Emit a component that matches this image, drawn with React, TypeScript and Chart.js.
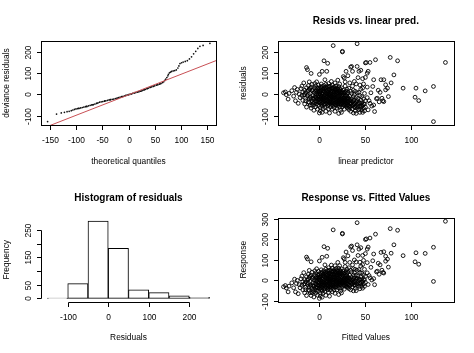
import React, { useEffect, useRef } from "react";
import { Chart, registerables } from "chart.js";

Chart.register(...registerables);

const FONT = "'Liberation Sans', Arial, Helvetica, sans-serif";

// ---------- Panel 1: QQ plot (theoretical quantile, sorted deviance residual) ----------
const qqPoints: [number, number][] = [
  [-154, -129], [-137, -93], [-128, -88], [-122, -85], [-117, -82], [-113, -80], [-109, -77],
  [-106, -74], [-103, -71], [-100, -69], [-97, -67], [-94, -66], [-91, -64], [-88, -62],
  [-85, -60], [-82, -58], [-79, -57], [-76, -54], [-73, -52], [-70, -50], [-67, -48],
  [-64, -46], [-61, -43], [-58, -40], [-55, -37], [-52, -35], [-49, -34], [-46, -32],
  [-43, -30], [-40, -28], [-37, -26], [-34, -25], [-31, -23], [-28, -22], [-25, -20],
  [-22, -18], [-19, -15], [-16, -13], [-13, -11], [-10, -9], [-7, -7], [-4, -4], [-1, -2],
  [2, 0], [5, 2], [8, 5], [11, 7], [14, 9], [17, 11], [20, 13], [23, 15], [26, 18],
  [29, 21], [32, 24], [35, 27], [38, 30], [41, 33], [44, 36], [47, 38], [50, 41], [53, 44],
  [56, 46], [59, 49], [62, 52], [65, 56], [67, 60], [69, 66], [71, 72], [73, 80], [75, 88],
  [76, 95], [78, 102], [80, 106], [82, 109], [85, 111], [88, 113], [91, 116], [94, 125],
  [96, 135], [98, 146], [101, 150], [104, 153], [108, 156], [112, 160], [116, 168],
  [120, 178], [124, 192], [128, 204], [132, 218], [136, 228], [142, 232], [155, 242],
  [-60, -42], [-45, -31], [-35, -25], [-20, -17], [-12, -10], [-5, -5], [0, -1], [6, 3],
  [12, 8], [18, 12], [24, 16], [30, 22], [36, 28], [42, 34], [48, 39], [54, 45], [60, 50],
  [-95, -66], [-80, -57], [-68, -49],
];
const qqLineX = [-180, 180];
const qqLineY = [-177, 173];
const qqXTicks = [-150, -100, -50, 0, 50, 100, 150];
const qqYTicks = [-100, 0, 100, 200];

// ---------- Panel 2: residuals vs linear predictor [fitted, residual] ----------
const residPoints: [number, number][] = [
  [-39, 8], [-37, 12], [-36, -1], [-34, -22], [-33, 5], [-30, 18], [-28, -8], [-27, 33], [-26, -30],
  [-25, 10], [-24, 24], [-23, -42], [-22, 2], [-21, -15], [-20, 28],
  [-19, -5], [-19, 40], [-18, 12], [-18, -28], [-17, 55], [-17, -2], [-16, 20], [-16, -45], [-15, 8],
  [-15, -18], [-14, 128], [-14, 32], [-14, -60], [-13, 118], [-13, -8], [-13, 15], [-12, 42], [-12, -35],
  [-12, 0], [-11, -20], [-11, 25], [-11, 60], [-10, -50], [-10, 5], [-10, -12], [-9, 100], [-9, 35],
  [-9, -65], [-8, 18], [-8, -30], [-8, 48], [-7, -5], [-7, -42], [-7, 22], [-6, 10], [-6, -22],
  [-6, -75], [-5, 30], [-5, -10], [-5, 52],
  [-4, -30], [-4, 5], [-4, 40], [-4, -58], [-4, 15],
  [-3, -18], [-3, 22], [-3, -45], [-3, 0], [-3, 60],
  [-2, -8], [-2, 30], [-2, -35], [-2, 12], [-2, -70],
  [-1, -25], [-1, 45], [-1, 3], [-1, -52], [-1, 18],
  [0, -12], [0, -88], [0, 28], [0, -40], [0, 8], [0, 95],
  [1, -20], [1, 36], [1, -3], [1, -62], [1, 14], [1, -78],
  [2, -30], [2, 50], [2, -10], [2, 20], [2, -45],
  [3, 110], [3, -22], [3, 2], [3, 38], [3, -55], [3, -85],
  [4, -14], [4, 25], [4, -36], [4, 8], [4, -66],
  [5, 160], [5, -5], [5, 42], [5, -28], [5, 15], [5, -48],
  [6, -18], [6, 32], [6, -2], [6, -60], [6, 12], [6, 70],
  [7, -38], [7, 5], [7, 22], [7, -24], [7, -80], [7, 48],
  [8, 110], [8, -8], [8, 28], [8, -45], [8, -15], [8, 3],
  [9, 148], [9, -30], [9, 18], [9, -55], [9, -2], [9, 38],
  [10, -20], [10, 10], [10, -68], [10, 52], [10, -35], [10, 0],
  [11, -12], [11, 25], [11, -42], [11, 6], [11, -88], [11, -25],
  [12, -5], [12, 40], [12, -30], [12, 15], [12, -60], [12, -18],
  [13, 8], [13, -48], [13, 30], [13, -10], [13, 62], [13, -35],
  [14, -22], [14, 18], [14, -2], [14, -70], [14, 45], [14, -40],
  [15, 232], [15, -15], [15, 5], [15, -52], [15, 28], [15, -30],
  [16, -8], [16, 35], [16, -25], [16, 12], [16, -62], [16, -45],
  [17, 0], [17, -36], [17, 22], [17, -12], [17, 55], [17, -80],
  [18, -20], [18, 10], [18, -48], [18, 40], [18, -5], [18, -28],
  [19, -40], [19, 18], [19, -15], [19, -65], [19, 30], [19, 2],
  [20, -10], [20, -32], [20, 25], [20, -55], [20, 8], [20, 68],
  [21, -25], [21, 5], [21, -45], [21, 38], [21, -8], [21, -90],
  [22, -18], [22, 15], [22, -38], [22, -60], [22, 0], [22, 50],
  [23, -30], [23, 22], [23, -10], [23, -75], [23, 10],
  [24, -48], [24, -5], [24, 32], [24, -22], [24, -85],
  [25, 205], [25, 202], [25, -15], [25, 12], [25, -40], [25, -60],
  [26, -28], [26, 85], [26, -2], [26, -50], [26, 20],
  [27, 78], [27, -35], [27, 8], [27, -18], [27, -70],
  [28, -10], [28, 40], [28, -45], [28, -25], [28, 60],
  [29, 110], [29, -55], [29, -5], [29, 15], [29, -30],
  [30, -20], [30, -62], [30, 25], [30, -40], [30, 5],
  [31, 89], [31, -15], [31, -50], [31, 10], [32, -35], [32, -72], [32, 30],
  [33, 55], [33, -25], [33, -8], [33, -60], [34, -45], [34, 15], [34, -80], [34, 130],
  [35, 133], [35, -20], [35, -55], [35, 5], [36, 110], [36, -35], [36, -68], [36, 40],
  [37, -10], [37, -48], [37, -88], [37, 20], [38, -25], [38, -60], [38, 62], [38, 0],
  [39, -40], [39, -78], [39, 15], [40, -15], [40, -55], [40, 50], [40, -90],
  [41, 241], [41, 133], [41, -30], [41, -65], [41, 8], [42, -45], [42, 80], [42, -20],
  [43, -72], [43, 10], [43, -38], [43, 110], [44, -55], [44, -5], [44, -85], [44, 45],
  [45, -28], [45, -62], [45, 115], [45, 25], [46, -40], [46, -75], [46, -10],
  [47, -52], [47, 75], [47, 30], [47, -85], [48, -20], [48, -65], [48, 50],
  [49, -45], [49, 5], [49, -78], [50, -30], [50, 81], [50, 150], [50, -60],
  [51, 152], [52, 101], [52, -15], [52, 35], [53, -73], [53, 110], [54, -30], [55, 152],
  [55, -42], [56, 8], [57, -55], [58, 38], [59, 70], [59, -50], [60, -81], [61, 165],
  [62, -20], [63, -18], [64, 20], [65, -35], [66, 10], [67, 70], [68, -18], [69, -30],
  [70, 70], [70, -34], [72, 46], [72, 22], [74, 30], [75, -10], [77, 176], [78, 55],
  [81, 93], [85, 160], [91, 30], [104, -13], [105, 30], [108, -29], [115, 17], [124, 38],
  [124, -129], [137, 152],
  [0, -22], [0, 15], [1, -35], [1, 4], [2, -16], [2, 30], [3, -8], [3, -40], [4, 18], [4, -24],
  [5, -15], [5, 28], [6, -30], [6, -45], [7, -10], [7, 35], [8, -28], [8, 15], [9, -12], [9, -40],
  [10, 22], [10, -48], [11, -5], [11, 38], [12, -40], [12, 2], [13, -22], [13, 18], [14, -12], [14, 30],
  [15, -40], [15, 15], [16, -15], [16, 0], [17, -50], [17, 28], [18, -38], [18, 22], [19, -28], [19, 10],
  [20, -20], [20, -45], [21, 15], [21, -35], [22, -28], [22, 28], [23, -42], [23, -20], [24, -35], [24, 8],
  [25, -28], [25, 0], [26, -38], [26, 8], [27, -50], [27, -25], [28, -35], [28, 10], [29, -42], [29, -18],
  [30, -50], [30, -8], [31, -30], [31, -65], [32, -20], [32, -55], [33, -40], [34, -30], [35, -42], [36, -52],
  [37, -30], [38, -45], [39, -62], [40, -35], [42, -58], [44, -40], [46, -55], [48, -45], [-2, -20], [-3, -32],
  [-4, -12], [-5, -38], [-6, -50], [-7, -18], [-8, -52], [-9, -20], [-10, 30], [-11, -40], [-12, 20], [-15, -30],
  [-16, 0],
];
const residXTicks = [0, 50, 100];
const residYTicks = [-100, 0, 100, 200];

// ---------- Panel 3: histogram of residuals ----------
const histBinStarts = [-150, -100, -50, 0, 50, 100, 150, 200];
const histBinWidth = 50;
const histCounts = [1, 54, 283, 183, 31, 21, 9, 4];
const histXTicks = [-100, 0, 100, 200];
const histYTicks = [0, 50, 100, 150, 200, 250];
const histYTickLabels = ["0", "50", "", "150", "", "250"];

// ---------- Panel 4: response vs fitted values [fitted, response] ----------
const responsePoints: [number, number][] = [
  [-39, -31], [-37, -25], [-36, -37], [-34, -56], [-33, -28], [-30, -12], [-28, -36], [-27, 6], [-26, -56],
  [-25, -15], [-24, 0], [-23, -65], [-22, -20], [-21, -36], [-20, 8],
  [-19, -24], [-19, 21], [-18, -6], [-18, -46], [-17, 38], [-17, -19], [-16, 4], [-16, -61], [-15, -7],
  [-15, -33], [-14, 114], [-14, 18], [-14, -74], [-13, 105], [-13, -21], [-13, 2], [-12, 30], [-12, -47],
  [-12, -12], [-11, -31], [-11, 14], [-11, 49], [-10, -60], [-10, -5], [-10, -22], [-9, 91], [-9, 26],
  [-9, -74], [-8, 10], [-8, -38], [-8, 40], [-7, -12], [-7, -49], [-7, 15], [-6, 4], [-6, -28],
  [-6, -81], [-5, 25], [-5, -15], [-5, 47],
  [-4, -34], [-4, 1], [-4, 36], [-4, -62], [-4, 11],
  [-3, -21], [-3, 19], [-3, -48], [-3, -3], [-3, 57],
  [-2, -10], [-2, 28], [-2, -37], [-2, 10], [-2, -72],
  [-1, -26], [-1, 44], [-1, 2], [-1, -53], [-1, 17],
  [0, -12], [0, -88], [0, 28], [0, -40], [0, 8], [0, 95],
  [1, -19], [1, 37], [1, -2], [1, -61], [1, 15], [1, -77],
  [2, -28], [2, 52], [2, -8], [2, 22], [2, -43],
  [3, 113], [3, -19], [3, 5], [3, 41], [3, -52], [3, -82],
  [4, -10], [4, 29], [4, -32], [4, 12], [4, -62],
  [5, 165], [5, 0], [5, 47], [5, -23], [5, 20], [5, -43],
  [6, -12], [6, 38], [6, 4], [6, -54], [6, 18], [6, 76],
  [7, -31], [7, 12], [7, 29], [7, -17], [7, -73], [7, 55],
  [8, 118], [8, 0], [8, 36], [8, -37], [8, -7], [8, 11],
  [9, 157], [9, -21], [9, 27], [9, -46], [9, 7], [9, 47],
  [10, -10], [10, 20], [10, -58], [10, 62], [10, -25], [10, 10],
  [11, -1], [11, 36], [11, -31], [11, 17], [11, -77], [11, -14],
  [12, 7], [12, 52], [12, -18], [12, 27], [12, -48], [12, -6],
  [13, 21], [13, -35], [13, 43], [13, 3], [13, 75], [13, -22],
  [14, -8], [14, 32], [14, 12], [14, -56], [14, 59], [14, -26],
  [15, 247], [15, 0], [15, 20], [15, -37], [15, 43], [15, -15],
  [16, 8], [16, 51], [16, -9], [16, 28], [16, -46], [16, -29],
  [17, 17], [17, -19], [17, 39], [17, 5], [17, 72], [17, -63],
  [18, -2], [18, 28], [18, -30], [18, 58], [18, 13], [18, -10],
  [19, -21], [19, 37], [19, 4], [19, -46], [19, 49], [19, 21],
  [20, 10], [20, -12], [20, 45], [20, -35], [20, 28], [20, 88],
  [21, -4], [21, 26], [21, -24], [21, 59], [21, 13], [21, -69],
  [22, 4], [22, 37], [22, -16], [22, -38], [22, 22], [22, 72],
  [23, -7], [23, 45], [23, 13], [23, -52], [23, 33],
  [24, -24], [24, 19], [24, 56], [24, 2], [24, -61],
  [25, 230], [25, 227], [25, 10], [25, 37], [25, -15], [25, -35],
  [26, -2], [26, 111], [26, 24], [26, -24], [26, 46],
  [27, 105], [27, -8], [27, 35], [27, 9], [27, -43],
  [28, 18], [28, 68], [28, -17], [28, 3], [28, 88],
  [29, 139], [29, -26], [29, 24], [29, 44], [29, -1],
  [30, 10], [30, -32], [30, 55], [30, -10], [30, 35],
  [31, 120], [31, 16], [31, -19], [31, 41], [32, -3], [32, -40], [32, 62],
  [33, 88], [33, 8], [33, 25], [33, -27], [34, -11], [34, 49], [34, -46], [34, 164],
  [35, 168], [35, 15], [35, -20], [35, 40], [36, 146], [36, 1], [36, -32], [36, 76],
  [37, 27], [37, -11], [37, -51], [37, 57], [38, 13], [38, -22], [38, 100], [38, 38],
  [39, -1], [39, -39], [39, 54], [40, 25], [40, -15], [40, 90], [40, -50],
  [41, 282], [41, 174], [41, 11], [41, -24], [41, 49], [42, -3], [42, 122], [42, 22],
  [43, -29], [43, 53], [43, 5], [43, 153], [44, -11], [44, 39], [44, -41], [44, 89],
  [45, 17], [45, -17], [45, 160], [45, 70], [46, 6], [46, -29], [46, 36],
  [47, -5], [47, 122], [47, 77], [47, -38], [48, 28], [48, -17], [48, 98],
  [49, 4], [49, 54], [49, -29], [50, 20], [50, 131], [50, 200], [50, -10],
  [51, 203], [52, 153], [52, 37], [52, 87], [53, -20], [53, 163], [54, 24], [55, 207],
  [55, 13], [56, 64], [57, 2], [58, 96], [59, 129], [59, 9], [60, -21], [61, 226],
  [62, 42], [63, 45], [64, 84], [65, 30], [66, 76], [67, 137], [68, 50], [69, 39],
  [70, 140], [70, 36], [72, 118], [72, 94], [74, 104], [75, 65], [77, 253], [78, 133],
  [81, 174], [85, 245], [91, 121], [104, 91], [105, 135], [108, 79], [115, 132], [124, 162],
  [124, -5], [137, 289],
  [0, -22], [0, 15], [1, -34], [1, 5], [2, -14], [2, 32], [3, -5], [3, -37], [4, 22], [4, -20],
  [5, -10], [5, 33], [6, -24], [6, -39], [7, -3], [7, 42], [8, -20], [8, 23], [9, -3], [9, -31],
  [10, 32], [10, -38], [11, 6], [11, 49], [12, -28], [12, 14], [13, -9], [13, 31], [14, 2], [14, 44],
  [15, -25], [15, 30], [16, 1], [16, 16], [17, -33], [17, 45], [18, -20], [18, 40], [19, -9], [19, 29],
  [20, 0], [20, -25], [21, 36], [21, -14], [22, -6], [22, 50], [23, -19], [23, 3], [24, -11], [24, 32],
  [25, -3], [25, 25], [26, -12], [26, 34], [27, -23], [27, 2], [28, -7], [28, 38], [29, -13], [29, 11],
  [30, -20], [30, 22], [31, 1], [31, -34], [32, 12], [32, -23], [33, -7], [34, 4], [35, -7], [36, -16],
  [37, 7], [38, -7], [39, -23], [40, 5], [42, -16], [44, 4], [46, -9], [48, 3], [-2, -22], [-3, -35],
  [-4, -16], [-5, -43], [-6, -56], [-7, -25], [-8, -60], [-9, -29], [-10, 20], [-11, -51], [-12, 8], [-15, -45],
  [-16, -16],
];
const respXTicks = [0, 50, 100];
const respYTicks = [-100, 0, 100, 200, 300];

type Spec = {
  title?: string;
  xLabel: string;
  yLabel: string;
  xTicks: number[];
  yTicks: number[];
  yTickLabels?: string[];
  box: boolean;
};

function makeRAxes(spec: Spec) {
  return {
    id: "rAxes",
    afterDraw(chart: any) {
      const ctx: CanvasRenderingContext2D = chart.ctx;
      const { left, right, top, bottom } = chart.chartArea;
      const xs = chart.scales.x;
      const ys = chart.scales.y;
      const TL = 4.5;
      ctx.save();
      ctx.strokeStyle = "#000";
      ctx.fillStyle = "#000";
      ctx.lineWidth = 1;
      const L = Math.round(left) + 0.5;
      const R = Math.round(right) + 0.5;
      const T = Math.round(top) + 0.5;
      const B = Math.round(bottom) + 0.5;
      if (spec.box) ctx.strokeRect(L, T, R - L, B - T);
      const xp = spec.xTicks.map((v) => Math.round(xs.getPixelForValue(v)) + 0.5);
      const yp = spec.yTicks.map((v) => Math.round(ys.getPixelForValue(v)) + 0.5);
      ctx.beginPath();
      ctx.moveTo(xp[0], B);
      ctx.lineTo(xp[xp.length - 1], B);
      for (const p of xp) {
        ctx.moveTo(p, B);
        ctx.lineTo(p, B + TL);
      }
      ctx.moveTo(L, yp[0]);
      ctx.lineTo(L, yp[yp.length - 1]);
      for (const p of yp) {
        ctx.moveTo(L, p);
        ctx.lineTo(L - TL, p);
      }
      ctx.stroke();

      ctx.font = `8.4px ${FONT}`;
      ctx.textAlign = "center";
      ctx.textBaseline = "middle";
      spec.xTicks.forEach((v, i) => ctx.fillText(String(v), xp[i], bottom + 16));
      spec.yTicks.forEach((v, i) => {
        const lab = spec.yTickLabels ? spec.yTickLabels[i] : String(v);
        if (!lab) return;
        ctx.save();
        ctx.translate(left - 12.5, yp[i]);
        ctx.rotate(-Math.PI / 2);
        ctx.fillText(lab, 0, 0);
        ctx.restore();
      });
      const cx = (left + right) / 2;
      const cy = (top + bottom) / 2;
      ctx.fillText(spec.xLabel, cx, bottom + 36.5);
      ctx.save();
      ctx.translate(left - 34.3, cy);
      ctx.rotate(-Math.PI / 2);
      ctx.fillText(spec.yLabel, 0, 0);
      ctx.restore();
      if (spec.title) {
        ctx.font = `bold 10px ${FONT}`;
        ctx.fillText(spec.title, cx, top - 19.5);
      }
      ctx.restore();
    },
  };
}

function baseOptions(xMin: number, xMax: number, yMin: number, yMax: number, pad: any) {
  return {
    responsive: false,
    animation: false,
    events: [],
    layout: { padding: pad },
    plugins: {
      legend: { display: false },
      tooltip: { enabled: false },
      title: { display: false },
    },
    scales: {
      x: { type: "linear", display: false, min: xMin, max: xMax, offset: false },
      y: { type: "linear", display: false, min: yMin, max: yMax },
    },
  };
}

const topPadL = { left: 41, right: 21, top: 41, bottom: 51 };
const topPadR = { left: 41, right: 20.3, top: 41, bottom: 51 };
const botPadL = { left: 41, right: 21, top: 42, bottom: 51.5 };
const botPadR = { left: 41, right: 20.3, top: 42, bottom: 51.5 };

const scatterStyle = {
  pointRadius: 1.9,
  pointBorderWidth: 0.9,
  pointBackgroundColor: "rgba(0,0,0,0)",
  pointBorderColor: "#000",
  showLine: false,
};

function qqConfig(): any {
  return {
    type: "scatter",
    data: {
      datasets: [
        {
          data: qqLineX.map((x, i) => ({ x, y: qqLineY[i] })),
          showLine: true,
          borderColor: "rgb(200,80,85)",
          borderWidth: 1,
          pointRadius: 0,
        },
        {
          data: qqPoints.map(([x, y]) => ({ x, y })),
          pointRadius: 0.85,
          pointBorderWidth: 0,
          pointBackgroundColor: "#111",
        },
      ],
    },
    options: baseOptions(-166.6, 166.6, -145, 253, topPadL),
    plugins: [
      makeRAxes({
        xLabel: "theoretical quantiles",
        yLabel: "deviance residuals",
        xTicks: qqXTicks,
        yTicks: qqYTicks,
        box: true,
      }),
    ],
  };
}

function residConfig(): any {
  return {
    type: "scatter",
    data: {
      datasets: [{ data: residPoints.map(([x, y]) => ({ x, y })), ...scatterStyle }],
    },
    options: baseOptions(-45, 146, -145, 254, topPadR),
    plugins: [
      makeRAxes({
        title: "Resids vs. linear pred.",
        xLabel: "linear predictor",
        yLabel: "residuals",
        xTicks: residXTicks,
        yTicks: residYTicks,
        box: true,
      }),
    ],
  };
}

function histConfig(): any {
  return {
    type: "bar",
    data: {
      datasets: [
        {
          data: histBinStarts.map((s, i) => ({ x: s + histBinWidth / 2, y: histCounts[i] })),
          backgroundColor: "#fff",
          borderColor: "#000",
          borderWidth: 1,
          borderSkipped: false,
          barPercentage: 1,
          categoryPercentage: 1,
        },
      ],
    },
    options: baseOptions(-166, 266, -11.3, 294.3, botPadL),
    plugins: [
      makeRAxes({
        title: "Histogram of residuals",
        xLabel: "Residuals",
        yLabel: "Frequency",
        xTicks: histXTicks,
        yTicks: histYTicks,
        yTickLabels: histYTickLabels,
        box: false,
      }),
    ],
  };
}

function respConfig(): any {
  return {
    type: "scatter",
    data: {
      datasets: [{ data: responsePoints.map(([x, y]) => ({ x, y })), ...scatterStyle }],
    },
    options: baseOptions(-45, 146, -103, 305, botPadR),
    plugins: [
      makeRAxes({
        title: "Response vs. Fitted Values",
        xLabel: "Fitted Values",
        yLabel: "Response",
        xTicks: respXTicks,
        yTicks: respYTicks,
        box: true,
      }),
    ],
  };
}

function Panel(props: { make: () => any; left: number; top: number; width: number; height: number }) {
  const ref = useRef<HTMLCanvasElement>(null);
  useEffect(() => {
    const chart = new Chart(ref.current as HTMLCanvasElement, props.make());
    return () => chart.destroy();
  }, []);
  return (
    <canvas
      ref={ref}
      width={props.width}
      height={props.height}
      style={{
        position: "absolute",
        left: props.left,
        top: props.top,
        width: props.width,
        height: props.height,
        display: "block",
      }}
    />
  );
}

export default function App() {
  return (
    <div
      style={{
        position: "absolute",
        left: 0,
        top: 0,
        width: 474,
        height: 353,
        background: "#fff",
        overflow: "hidden",
      }}
    >
      <Panel make={qqConfig} left={0} top={0} width={237} height={176} />
      <Panel make={residConfig} left={237} top={0} width={237} height={176} />
      <Panel make={histConfig} left={0} top={176} width={237} height={177} />
      <Panel make={respConfig} left={237} top={176} width={237} height={177} />
    </div>
  );
}
